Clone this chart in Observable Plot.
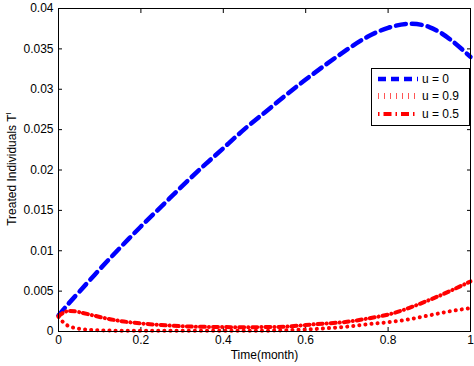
<!DOCTYPE html>
<html>
<head>
<meta charset="utf-8">
<script src="https://cdn.jsdelivr.net/npm/d3@7"></script>
<script src="https://cdn.jsdelivr.net/npm/@observablehq/plot@0.6"></script>
<style>
  html, body { margin: 0; padding: 0; background: #fff; }
  #wrap { position: relative; width: 474px; height: 366px; font-family: "Liberation Sans", Arial, sans-serif; }
  #ylabel { position: absolute; left: 11px; top: 169px; transform: translate(-50%, -50%) rotate(-90deg); font-size: 12px; white-space: nowrap; color: #000; }
  #ylabel sup { font-size: 8px; }
  #legend { position: absolute; left: 371px; top: 68px; width: 97px; height: 56px; border: 1px solid #000; background: #fff; font-size: 12px; }
  #legend .row { position: absolute; left: 0; height: 16px; }
  #legend svg { position: absolute; left: 6px; top: 0; }
  #legend span { position: absolute; left: 50px; top: 1px; white-space: nowrap; }
</style>
</head>
<body>
<div id="wrap"></div>
<script>
// Data
const time = [0, 0.02, 0.05, 0.1, 0.15, 0.2, 0.25, 0.3, 0.35, 0.4, 0.45, 0.5, 0.55, 0.6, 0.65, 0.7, 0.75, 0.8, 0.85, 0.9, 0.95, 1.0];
const u0   = [0.0020, 0.0032, 0.0049, 0.0077, 0.0104, 0.0130, 0.0155, 0.0180, 0.0204, 0.0227, 0.0250, 0.0271, 0.0292, 0.0312, 0.0331, 0.0349, 0.0365, 0.0376, 0.0381, 0.0377, 0.0362, 0.0340];
const u09  = [0.0018, 0.0008, 0.00035, 0.00015, 0.0001, 0.0001, 0.0001, 0.0001, 0.0001, 0.0001, 0.0001, 0.0001, 0.00015, 0.00025, 0.0004, 0.0006, 0.0009, 0.00115, 0.0015, 0.0020, 0.0025, 0.0029];
const u05  = [0.0019, 0.0025, 0.0024, 0.0018, 0.0013, 0.0010, 0.0008, 0.00065, 0.00058, 0.00055, 0.00053, 0.00055, 0.0006, 0.0008, 0.0010, 0.0012, 0.0016, 0.0021, 0.0029, 0.0039, 0.0050, 0.0062];
const seriesNames = ["u = 0", "u = 0.9", "u = 0.5"];
const xTicks = [0, 0.2, 0.4, 0.6, 0.8, 1];
const yTicks = [0, 0.005, 0.01, 0.015, 0.02, 0.025, 0.03, 0.035, 0.04];
const xLabel = "Time(month)";
const yLabel = "Treated Individuals T";
const yLabelSup = "I";

const rows = (ys) => time.map((t, i) => ({t, v: ys[i]}));
const fmt = d3.format("~g");

const chart = Plot.plot({
  width: 474,
  height: 366,
  marginLeft: 58,
  marginRight: 4,
  marginTop: 8,
  marginBottom: 35,
  style: {fontFamily: "'Liberation Sans', Arial, sans-serif", fontSize: "12px", color: "#000", background: "#fff", overflow: "visible"},
  x: {domain: [0, 1]},
  y: {domain: [0, 0.04]},
  marks: [
    Plot.axisX({anchor: "bottom", ticks: xTicks, tickSize: -4, tickPadding: 8, tickFormat: fmt, label: null, fontSize: 12}),
    Plot.axisX({anchor: "top", ticks: xTicks, tickSize: -4, tickFormat: () => "", label: null}),
    Plot.axisY({anchor: "left", ticks: yTicks, tickSize: -4, tickPadding: 9, tickFormat: fmt, label: null, fontSize: 12}),
    Plot.axisY({anchor: "right", ticks: yTicks, tickSize: -4, tickFormat: () => "", label: null}),
    Plot.text([xLabel], {frameAnchor: "bottom", dy: 27, text: d => d, fontSize: 12}),
    Plot.line(rows(u0), {x: "t", y: "v", curve: "natural", stroke: "#0000ff", strokeWidth: 4.5, strokeDasharray: "10 6"}),
    Plot.line(rows(u09), {x: "t", y: "v", curve: "monotone-x", stroke: "#ff0000", strokeWidth: 4, strokeLinecap: "round", strokeDasharray: "0.1 6"}),
    Plot.line(rows(u05), {x: "t", y: "v", curve: "natural", stroke: "#ff0000", strokeWidth: 4, strokeLinecap: "round", strokeDasharray: "5 4 0.1 4"}),
    Plot.frame({stroke: "#000"})
  ]
});

const wrap = document.getElementById("wrap");
wrap.appendChild(chart);

const yl = document.createElement("div");
yl.id = "ylabel";
yl.innerHTML = yLabel + "<sup>" + yLabelSup + "</sup>";
wrap.appendChild(yl);

// Legend
const styles = [
  {stroke: "#0000ff", width: 4.5, dash: "8 5", cap: "butt"},
  {stroke: "#ff5555", width: 6, dash: "1 5", cap: "butt"},
  {stroke: "#ff0000", width: 4, dash: "1.5 4 8 4", cap: "butt"}
];
const lg = document.createElement("div");
lg.id = "legend";
seriesNames.forEach((name, i) => {
  const row = document.createElement("div");
  row.className = "row";
  row.style.top = (1.5 + i * 17.5) + "px";
  const s = styles[i];
  row.innerHTML = `<svg width="40" height="16"><line x1="0" y1="8" x2="40" y2="8" stroke="${s.stroke}" stroke-width="${s.width}" stroke-dasharray="${s.dash}" stroke-linecap="${s.cap}"/></svg><span>${name}</span>`;
  row.style.width = "97px";
  lg.appendChild(row);
});
wrap.appendChild(lg);
</script>
</body>
</html>
